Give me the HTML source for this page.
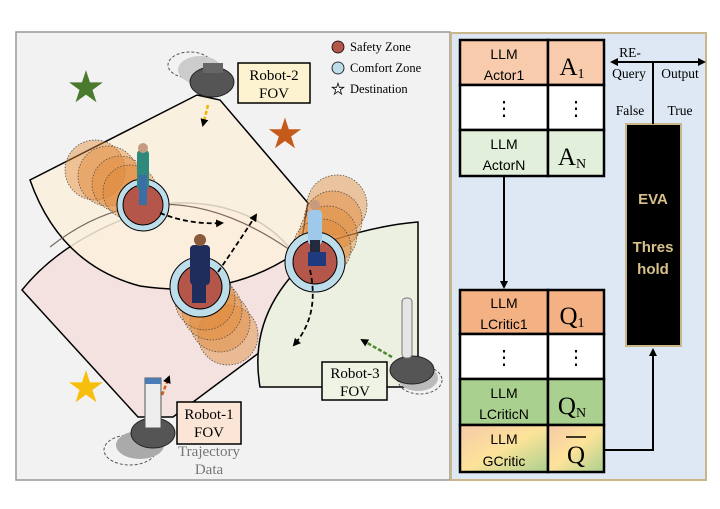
<!DOCTYPE html>
<html><head><meta charset="utf-8"><style>
body{margin:0;width:720px;height:509px;background:#fff;overflow:hidden;font-family:"Liberation Serif",serif}
svg{position:absolute;left:0;top:0}
</style></head><body>
<svg width="720" height="509" viewBox="0 0 720 509" xmlns="http://www.w3.org/2000/svg">
<defs>
<linearGradient id="g" x1="0" y1="0" x2="1" y2="1"><stop offset="0" stop-color="#f6c9a9"/><stop offset="0.5" stop-color="#fde39a"/><stop offset="1" stop-color="#a9d08e"/></linearGradient>
<marker id="ah" markerWidth="8" markerHeight="8" refX="6" refY="4" orient="auto" markerUnits="userSpaceOnUse"><path d="M0,0 L8,4 L0,8 Z" fill="#000"/></marker>
</defs>
<rect x="16" y="32" width="434" height="448" fill="#f2f2f2" stroke="#999" stroke-width="1.5"/>
<path d="M138 417 L22 290 Q70 230 173 203 Q260 200 300 262 L323 305 L173 417 Z" fill="#f3e2df" stroke="#000" stroke-width="1.5"/>
<path d="M197 95 L30 180 Q60 265 140 286 Q230 300 300 250 L308 203 L220 100 Z" fill="#fbf0dd" fill-opacity="0.85" stroke="#000" stroke-width="1.5"/>
<path d="M50 247 Q160 160 290 250" fill="none" stroke="#7a6a60" stroke-width="1.2"/>
<path d="M418 222 L418 387 L260 387 Q245 300 333 240 Q380 225 418 222 Z" fill="#ecf0e0" stroke="#000" stroke-width="1.5"/>
<g fill="#e08a3a" fill-opacity="0.45" stroke="#444" stroke-width="0.7" stroke-dasharray="1.5,1.5">
<circle cx="95" cy="170" r="30"/><circle cx="108" cy="176" r="30"/><circle cx="120" cy="184" r="28"/><circle cx="130" cy="192" r="27"/>
<circle cx="228" cy="335" r="30"/><circle cx="220" cy="322" r="30"/><circle cx="212" cy="310" r="30"/><circle cx="205" cy="300" r="30"/>
<circle cx="337" cy="205" r="30"/><circle cx="333" cy="220" r="29"/><circle cx="328" cy="235" r="29"/><circle cx="322" cy="248" r="29"/>
</g>
<g stroke="#000" stroke-width="1">
<circle cx="143" cy="205" r="26" fill="#bcdde9"/><circle cx="143" cy="205" r="20" fill="#b5564a"/>
<circle cx="200" cy="287" r="30" fill="#bcdde9"/><circle cx="200" cy="287" r="22" fill="#b5564a"/>
<circle cx="315" cy="262" r="30" fill="#bcdde9"/><circle cx="315" cy="262" r="22" fill="#b5564a"/>
</g>
<rect x="137" y="150" width="12" height="40" rx="4" fill="#2d8a7c"/><rect x="139" y="175" width="8" height="30" fill="#3b6ea5"/><circle cx="143" cy="148" r="5" fill="#c89b80"/>
<rect x="190" y="245" width="20" height="40" rx="4" fill="#1f2d5c"/><rect x="192" y="275" width="14" height="28" fill="#1f2d5c"/><circle cx="200" cy="240" r="6" fill="#8a5a3c"/>
<rect x="308" y="210" width="14" height="35" rx="4" fill="#9fc9ea"/><rect x="310" y="240" width="10" height="25" fill="#222b3e"/><rect x="308" y="252" width="18" height="14" fill="#203a80"/><circle cx="315" cy="205" r="5" fill="#c89b80"/>
<g fill="none" stroke="#000" stroke-width="1.8" stroke-dasharray="5,3" marker-end="url(#ah)">
<path d="M160 213 Q190 225 222 223"/>
<path d="M218 272 Q240 240 256 215"/>
<path d="M310 270 Q320 315 294 345"/>
</g>
<path d="M208 105 L203 125" stroke="#f2b400" stroke-width="2.5" stroke-dasharray="4,2" marker-end="url(#ah)"/>
<path d="M392 357 L362 340" stroke="#4e8a30" stroke-width="2.5" stroke-dasharray="4,2" marker-end="url(#ah)"/>
<path d="M162 395 L169 377" stroke="#d1601c" stroke-width="2.5" stroke-dasharray="4,2" marker-end="url(#ah)"/>
<g fill="none" stroke="#555" stroke-dasharray="3,2"><ellipse cx="190" cy="65" rx="22" ry="13"/><ellipse cx="130" cy="450" rx="26" ry="15"/><ellipse cx="420" cy="380" rx="22" ry="14"/></g>
<ellipse cx="200" cy="70" rx="22" ry="14" fill="#ccc"/><ellipse cx="140" cy="445" rx="24" ry="14" fill="#aaa"/><ellipse cx="418" cy="378" rx="20" ry="13" fill="#bbb"/>
<ellipse cx="212" cy="82" rx="22" ry="15" fill="#555" stroke="#222"/>
<ellipse cx="153" cy="433" rx="22" ry="15" fill="#555" stroke="#222"/>
<ellipse cx="412" cy="370" rx="22" ry="14" fill="#555" stroke="#222"/>
<rect x="203" y="63" width="20" height="10" fill="#666"/>
<rect x="145" y="378" width="16" height="50" fill="#eee" stroke="#555"/><rect x="145" y="378" width="16" height="6" fill="#4a7cb5"/>
<rect x="402" y="298" width="10" height="60" rx="4" fill="#e5e5e5" stroke="#777"/>
<text x="86" y="102" font-size="44" fill="#4a7a2e" text-anchor="middle">★</text>
<text x="285" y="148" font-size="42" fill="#c55a1a" text-anchor="middle">★</text>
<text x="86" y="402" font-size="44" fill="#f7bf0c" text-anchor="middle">★</text>
<circle cx="338" cy="47" r="6" fill="#b5564a" stroke="#000" stroke-width="0.8"/>
<circle cx="338" cy="68" r="6" fill="#bcdde9" stroke="#000" stroke-width="0.8"/>
<text x="338" y="94" font-size="15" text-anchor="middle" fill="#fff" stroke="#000" stroke-width="0.8">★</text>
<g font-size="12.5" fill="#000"><text x="350" y="51">Safety Zone</text><text x="350" y="72">Comfort Zone</text><text x="350" y="93">Destination</text></g>
<g font-size="15" text-anchor="middle" stroke-width="1.5">
<rect x="238" y="63" width="72" height="40" fill="#fdf3d0" stroke="#000"/><text x="274" y="80" stroke="none">Robot-2</text><text x="274" y="98" stroke="none">FOV</text>
<rect x="177" y="402" width="64" height="42" fill="#fbe5d6" stroke="#000"/><text x="209" y="419" stroke="none">Robot-1</text><text x="209" y="437" stroke="none">FOV</text>
<rect x="322" y="362" width="65" height="38" fill="#eef3e4" stroke="#000"/><text x="355" y="378" stroke="none">Robot-3</text><text x="355" y="396" stroke="none">FOV</text>
<text x="209" y="456" fill="#777" stroke="none">Trajectory</text><text x="209" y="474" fill="#777" stroke="none">Data</text>
</g>
<rect x="451" y="33" width="255" height="447" fill="#dde8f4" stroke="#c9b78a" stroke-width="2"/>
<g stroke="#000" stroke-width="2.5">
<rect x="460" y="40" width="88" height="45" fill="#f8cbad"/><rect x="548" y="40" width="56" height="45" fill="#f8cbad"/>
<rect x="460" y="85" width="88" height="45" fill="#fff"/><rect x="548" y="85" width="56" height="45" fill="#fff"/>
<rect x="460" y="130" width="88" height="46" fill="#e2efda"/><rect x="548" y="130" width="56" height="46" fill="#e2efda"/>
<rect x="460" y="290" width="88" height="44" fill="#f4b183"/><rect x="548" y="290" width="56" height="44" fill="#f4b183"/>
<rect x="460" y="334" width="88" height="45" fill="#fff"/><rect x="548" y="334" width="56" height="45" fill="#fff"/>
<rect x="460" y="379" width="88" height="46" fill="#a9d08e"/><rect x="548" y="379" width="56" height="46" fill="#a9d08e"/>
<rect x="460" y="425" width="88" height="47" fill="url(#g)"/><rect x="548" y="425" width="56" height="47" fill="url(#g)"/>
</g>
<g font-family="Liberation Sans,sans-serif" font-size="14" text-anchor="middle">
<text x="504" y="59">LLM</text><text x="504" y="80">Actor1</text>
<text x="504" y="149">LLM</text><text x="504" y="170">ActorN</text>
<text x="504" y="308">LLM</text><text x="504" y="329">LCritic1</text>
<text x="504" y="398">LLM</text><text x="504" y="419">LCriticN</text>
<text x="504" y="444">LLM</text><text x="504" y="466">GCritic</text>
<text x="504" y="115" font-size="20">⋮</text><text x="576" y="115" font-size="20">⋮</text>
<text x="504" y="364" font-size="20">⋮</text><text x="576" y="364" font-size="20">⋮</text>
</g>
<g font-size="25" text-anchor="middle">
<text x="572" y="75">A<tspan font-size="14" dy="3">1</tspan></text>
<text x="572" y="165">A<tspan font-size="14" dy="3">N</tspan></text>
<text x="572" y="324">Q<tspan font-size="14" dy="3">1</tspan></text>
<text x="572" y="414">Q<tspan font-size="14" dy="3">N</tspan></text>
<text x="576" y="463">Q</text>
</g>
<line x1="566" y1="437" x2="586" y2="437" stroke="#000" stroke-width="1.5"/>
<rect x="626" y="124" width="55" height="222" fill="#000" stroke="#c9b78a" stroke-width="2"/>
<g font-family="Liberation Sans,sans-serif" font-weight="bold" font-size="15" fill="#d8c08a" text-anchor="middle">
<text x="653" y="204">EVA</text><text x="653" y="252">Thres</text><text x="653" y="274">hold</text></g>
<g stroke="#000" stroke-width="2" fill="none">
<line x1="653" y1="124" x2="653" y2="62"/>
<line x1="653" y1="62" x2="612" y2="62" marker-end="url(#ah)"/>
<line x1="653" y1="62" x2="704" y2="62" marker-end="url(#ah)"/>
<line x1="504" y1="176" x2="504" y2="287" marker-end="url(#ah)"/>
<path d="M604 450 L653 450 L653 350" marker-end="url(#ah)"/>
</g>
<g font-size="13.5" text-anchor="middle">
<text x="630" y="57">RE-</text><text x="629" y="78">Query</text><text x="680" y="78">Output</text>
<text x="630" y="115">False</text><text x="680" y="115">True</text>
</g>
</svg>
</body></html>
